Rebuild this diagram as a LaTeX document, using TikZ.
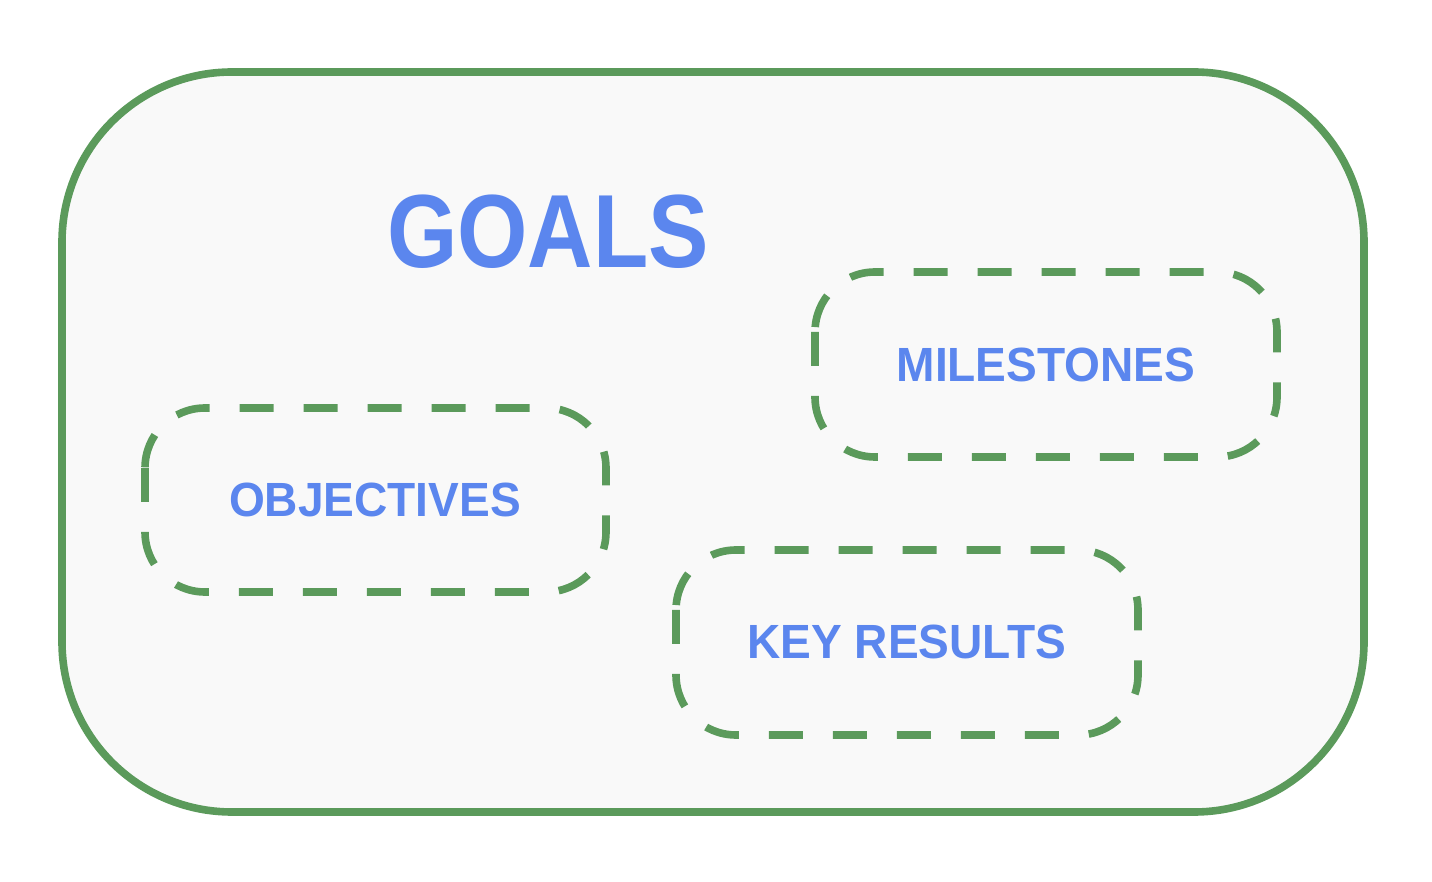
\documentclass[tikz,border=0pt]{standalone}
\usepackage{fontspec}
\setmainfont{Liberation Sans}
\definecolor{gr}{HTML}{5B9A5B}
\definecolor{bl}{HTML}{5B86EE}
\definecolor{bg}{HTML}{F9F9F9}
\begin{document}
\begin{tikzpicture}[x=0.5pt,y=-0.5pt,
  sub/.style={draw=gr,line width=3.8pt,dash pattern=on 17pt off 15pt,rounded corners=30pt},
  lbl/.style={text=bl,font=\bfseries\fontsize{24}{28}\selectfont,xscale=0.96}]
\useasboundingbox (0,0) rectangle (1432,882);
\draw[draw=gr,fill=bg,line width=3.8pt,rounded corners=85pt] (62,72) rectangle (1364,812);
\node[text=bl,font=\bfseries\fontsize{52}{60}\selectfont,xscale=0.87] (goals) at (548,232) {GOALS};
\draw[sub] (145,408) rectangle (606,592);
\draw[sub] (815,272) rectangle (1277,457);
\draw[sub] (676,550) rectangle (1138,735);
\node[lbl] (obj) at (375,500) {OBJECTIVES};
\node[lbl] (mil) at (1046,365) {MILESTONES};
\node[lbl] (kr) at (907,642) {KEY RESULTS};
\end{tikzpicture}
\end{document}
